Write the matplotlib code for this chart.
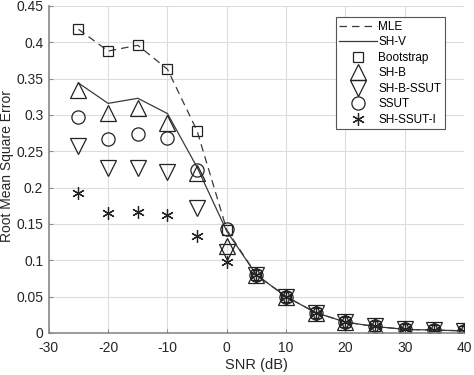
import matplotlib
matplotlib.use("Agg")
import matplotlib.pyplot as plt

plt.rcParams['font.family'] = ['Liberation Sans', 'DejaVu Sans']
plt.rcParams['axes.unicode_minus'] = False

snr = [-25, -20, -15, -10, -5, 0, 5, 10, 15, 20, 25, 30, 35, 40]
tail = [0.080, 0.050, 0.028, 0.015, 0.009, 0.005, 0.004, 0.003]

mle = [0.418, 0.388, 0.396, 0.363, 0.278, 0.142] + tail
sh_v = [0.344, 0.316, 0.323, 0.302, 0.228, 0.140] + tail
bootstrap = [0.418, 0.388, 0.396, 0.363, 0.278, 0.142] + tail
sh_b = [0.335, 0.303, 0.310, 0.289, 0.220, 0.120] + tail
sh_b_ssut = [0.258, 0.227, 0.227, 0.222, 0.172, 0.112] + tail
ssut = [0.297, 0.267, 0.274, 0.269, 0.224, 0.143] + tail
sh_ssut_i = [0.193, 0.165, 0.167, 0.163, 0.133, 0.098] + tail

fig = plt.figure(figsize=(4.74, 3.75), dpi=100)
ax = fig.add_axes([0.103, 0.112, 0.876, 0.872])

lc = '#3a3a3a'
ax.plot(snr, mle, '--', color=lc, lw=0.9, label='MLE', dashes=(6, 4))
ax.plot(snr, sh_v, '-', color=lc, lw=0.9, label='SH-V')
mk = dict(linestyle='none', mfc='none', mec='#222222', mew=0.9)
ax.plot(snr, bootstrap, marker='s', ms=7.5, label='Bootstrap', **mk)
ax.plot(snr, sh_b, marker='^', ms=11, label='SH-B', **mk)
ax.plot(snr, sh_b_ssut, marker='v', ms=11, label='SH-B-SSUT', **mk)
ax.plot(snr, ssut, marker='o', ms=9.5, label='SSUT', **mk)
ax.plot(snr, sh_ssut_i, marker=(6, 2, 0), ms=9, label='SH-SSUT-I', **mk)

ax.set_xlim(-30, 40)
ax.set_ylim(0, 0.45)
ax.set_xticks(range(-30, 41, 10))
ax.set_yticks([i * 0.05 for i in range(10)])
ax.set_yticklabels(['0', '0.05', '0.1', '0.15', '0.2', '0.25', '0.3', '0.35', '0.4', '0.45'])
ax.grid(True, color='#dcdcdc', lw=0.8)
ax.set_axisbelow(True)
for s in ['top', 'right']:
    ax.spines[s].set_visible(False)
for s in ['left', 'bottom']:
    ax.spines[s].set_color('#8a8a8a')
    ax.spines[s].set_linewidth(1.2)
ax.tick_params(colors='#262626', labelsize=10, length=3, direction='in', color='#8a8a8a')
ax.tick_params(axis='x', pad=6)
ax.tick_params(axis='y', pad=4)

ax.set_xlabel('SNR (dB)', fontsize=10.5, color='#262626', labelpad=2)
ax.set_ylabel('Root Mean Square Error', fontsize=10, color='#262626')
ax.yaxis.set_label_coords(-0.085, 0.51)

leg = ax.legend(loc='upper right', bbox_to_anchor=(0.954, 0.966), fontsize=8.5,
                fancybox=False, edgecolor='#555555', framealpha=1,
                handlelength=3.2, handletextpad=0.1, labelspacing=0.3,
                borderpad=0.3, borderaxespad=0)
leg.get_frame().set_linewidth(0.8)

fig.savefig('out.png', dpi=100)
